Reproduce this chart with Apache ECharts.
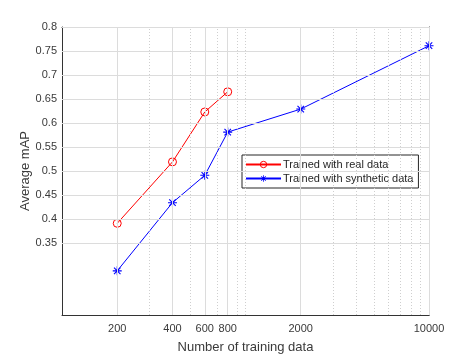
<!DOCTYPE html>
<html>
<head>
<meta charset="utf-8">
<script src="https://cdn.jsdelivr.net/npm/echarts@6/dist/echarts.min.js"></script>
<style>html,body{margin:0;padding:0;background:#fff;}#c{width:474px;height:355px;}</style>
</head>
<body>
<div id="c"></div>
<script>
// ---- data ----
const realX = [200, 400, 600, 800];
const realY = [0.391, 0.519, 0.623, 0.665];
const synthX = [200, 400, 600, 800, 2000, 10000];
const synthY = [0.292, 0.434, 0.491, 0.581, 0.629, 0.761];
const xTicks = [200, 400, 600, 800, 2000, 10000];
const xMinorGrid = [300, 500, 700, 900, 1000, 3000, 4000, 5000, 6000, 7000, 8000, 9000];
const yTicks = [0.35, 0.4, 0.45, 0.5, 0.55, 0.6, 0.65, 0.7, 0.75, 0.8];
const seriesNames = ['Trained with real data', 'Trained with synthetic data'];

const FONT = "'Liberation Sans', Arial, sans-serif";
const AXIS_COLOR = '#333333';
const TEXT_COLOR = '#3a3a3a';

// asterisk marker shape (symbol geometry)
const t = 0.6, L = 5, D = 3.6, o = t / Math.SQRT2;
const f = v => v.toFixed(3);
const asterisk = 'path://' +
  `M${f(-t)},${f(-L)}L${f(t)},${f(-L)}L${f(t)},${f(L)}L${f(-t)},${f(L)}Z` +
  `M${f(-L)},${f(-t)}L${f(L)},${f(-t)}L${f(L)},${f(t)}L${f(-L)},${f(t)}Z` +
  `M${f(-D+o)},${f(-D-o)}L${f(D+o)},${f(D-o)}L${f(D-o)},${f(D+o)}L${f(-D-o)},${f(-D+o)}Z` +
  `M${f(-D+o)},${f(D+o)}L${f(-D-o)},${f(D-o)}L${f(D-o)},${f(-D-o)}L${f(D+o)},${f(-D+o)}Z`;

const gridLines = []
  .concat(yTicks.map(v => ({ yAxis: v, lineStyle: { color: '#dcdcdc', width: 1, type: 'solid' } })))
  .concat(xTicks.map(v => ({ xAxis: v, lineStyle: { color: '#dcdcdc', width: 1, type: 'solid' } })))
  .concat(xMinorGrid.map(v => ({ xAxis: v, lineStyle: { color: '#cfcfcf', width: 1, type: [1, 2] } })));

const chart = echarts.init(document.getElementById('c'), null, { renderer: 'canvas' });
const commonTick = { show: true, inside: true, length: 4, lineStyle: { color: AXIS_COLOR, width: 1 } };
chart.setOption({
  animation: false,
  backgroundColor: '#ffffff',
  textStyle: { fontFamily: FONT },
  grid: { left: 62, right: 45, top: 27, bottom: 40, containLabel: false, outerBoundsMode: 'none' },
  legend: {
    data: [
      { name: seriesNames[0], itemStyle: { borderWidth: 1 } },
      { name: seriesNames[1], itemStyle: { borderWidth: 0 } }
    ],
    orient: 'vertical',
    left: 242,
    top: 155,
    padding: [4, 5, 4, 3],
    itemGap: 3,
    itemWidth: 35,
    itemHeight: 8,
    backgroundColor: '#ffffff',
    borderColor: '#262626',
    borderWidth: 1,
    borderRadius: 0,
    textStyle: { fontFamily: FONT, fontSize: 11, color: '#262626', padding: [0, 0, 0, -3] }
  },
  xAxis: [{
    type: 'log', logBase: 10, min: 100, max: 10000, position: 'bottom',
    name: 'Number of training data', nameLocation: 'middle', nameGap: 26, nameMoveOverlap: false,
    nameTextStyle: { fontFamily: FONT, fontSize: 13, color: TEXT_COLOR },
    axisLine: { show: true, lineStyle: { color: AXIS_COLOR, width: 1 } },
    axisTick: Object.assign({ customValues: xTicks }, commonTick),
    axisLabel: { customValues: xTicks, formatter: v => String(Math.round(v)), fontFamily: FONT, fontSize: 11, color: TEXT_COLOR, margin: 8 },
    splitLine: { show: false }, minorSplitLine: { show: false }
  }, {
    type: 'log', logBase: 10, min: 100, max: 10000, position: 'top',
    axisLine: { show: true, lineStyle: { color: AXIS_COLOR, width: 1 } },
    axisTick: Object.assign({ customValues: xTicks }, commonTick),
    axisLabel: { show: false },
    splitLine: { show: false }
  }],
  yAxis: [{
    type: 'value', min: 0.2, max: 0.8, interval: 0.05, position: 'left',
    name: 'Average mAP', nameLocation: 'middle', nameGap: 30, nameRotate: 90, nameMoveOverlap: false,
    nameTextStyle: { fontFamily: FONT, fontSize: 13, color: TEXT_COLOR },
    axisLine: { show: true, lineStyle: { color: AXIS_COLOR, width: 1 } },
    axisTick: Object.assign({ customValues: yTicks }, commonTick),
    axisLabel: { customValues: yTicks, formatter: v => String(+(+v).toFixed(2)), fontFamily: FONT, fontSize: 11, color: TEXT_COLOR, margin: 5 },
    splitLine: { show: false }
  }, {
    type: 'value', min: 0.2, max: 0.8, interval: 0.05, position: 'right',
    axisLine: { show: true, lineStyle: { color: AXIS_COLOR, width: 1 } },
    axisTick: Object.assign({ customValues: yTicks }, commonTick),
    axisLabel: { show: false },
    splitLine: { show: false }
  }],
  series: [{
    name: 'grid', type: 'line', data: [], xAxisIndex: 0, yAxisIndex: 0, silent: true, z: 1,
    markLine: { silent: true, symbol: ['none', 'none'], label: { show: false }, data: gridLines, animation: false }
  }, {
    name: seriesNames[0], type: 'line', z: 3,
    data: realX.map((x, i) => [x, realY[i]]),
    symbol: 'circle', symbolSize: 8,
    lineStyle: { color: '#ff0000', width: 1 },
    itemStyle: { color: 'rgba(255,255,255,0)', borderColor: '#ff0000', borderWidth: 1 }
  }, {
    name: seriesNames[1], type: 'line', z: 3,
    data: synthX.map((x, i) => [x, synthY[i]]),
    symbol: asterisk, symbolSize: 9,
    lineStyle: { color: '#0000ff', width: 1 },
    itemStyle: { color: '#0000ff', borderWidth: 0 }
  }]
});
</script>
</body>
</html>
